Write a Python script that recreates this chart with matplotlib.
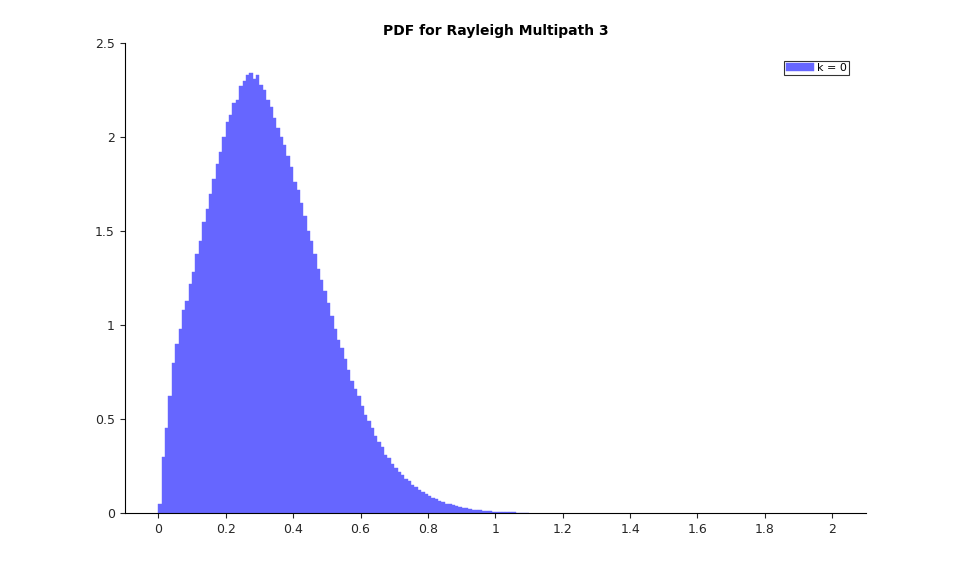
import numpy as np
import matplotlib.pyplot as plt

# histogram bin left edges (width 0.01) and densities
bin_width = 0.01
densities = [
    0.05, 0.30, 0.45, 0.62, 0.80, 0.90, 0.98, 1.08, 1.13, 1.22,
    1.28, 1.38, 1.45, 1.55, 1.62, 1.70, 1.78, 1.86, 1.92, 2.00,
    2.08, 2.12, 2.18, 2.20, 2.27, 2.30, 2.33, 2.34, 2.31, 2.33,
    2.28, 2.25, 2.20, 2.16, 2.10, 2.05, 2.00, 1.96, 1.90, 1.84,
    1.76, 1.72, 1.65, 1.58, 1.50, 1.45, 1.38, 1.30, 1.24, 1.18,
    1.12, 1.05, 0.98, 0.92, 0.88, 0.82, 0.76, 0.70, 0.66, 0.62,
    0.57, 0.52, 0.49, 0.45, 0.41, 0.38, 0.35, 0.31, 0.29, 0.26,
    0.24, 0.22, 0.20, 0.18, 0.17, 0.15, 0.14, 0.12, 0.11, 0.10,
    0.09, 0.08, 0.075, 0.065, 0.06, 0.05, 0.045, 0.04, 0.035, 0.03,
    0.027, 0.024, 0.02, 0.018, 0.016, 0.014, 0.012, 0.01, 0.008, 0.007,
    0.006, 0.005, 0.004, 0.004, 0.003, 0.003, 0.002, 0.002, 0.001, 0.001,
]
bin_left = np.arange(len(densities)) * bin_width

fig = plt.figure(figsize=(9.59, 5.77), dpi=100)
ax = fig.add_axes([0.130, 0.111, 0.773, 0.814])
ax.bar(bin_left, densities, width=bin_width, align='edge', color='#6666ff',
       edgecolor='#6666ff', linewidth=0.3, label='k = 0')

ax.set_xlim(-0.1, 2.1)
ax.set_ylim(0, 2.5)
ax.set_xticks(np.arange(0, 2.01, 0.2))
ax.set_xticklabels(['0', '0.2', '0.4', '0.6', '0.8', '1', '1.2', '1.4', '1.6', '1.8', '2'])
ax.set_yticks([0, 0.5, 1, 1.5, 2, 2.5])
ax.set_yticklabels(['0', '0.5', '1', '1.5', '2', '2.5'])
ax.spines['top'].set_visible(False)
ax.spines['right'].set_visible(False)
ax.tick_params(direction='out', labelsize=9, colors='#262626')
ax.set_title('PDF for Rayleigh Multipath 3', fontsize=10, fontweight='bold')

leg = ax.legend(loc='upper right', fontsize=8, frameon=True, fancybox=False,
                handlelength=2.5, borderpad=0.2, handletextpad=0.3,
                bbox_to_anchor=(0.985, 0.975))
leg.get_frame().set_edgecolor('black')
leg.get_frame().set_linewidth(0.8)

fig.savefig('out.png')
